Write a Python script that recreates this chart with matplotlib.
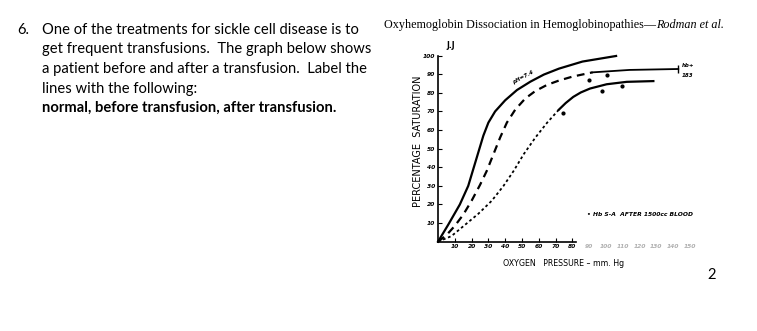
import numpy as np
import matplotlib
matplotlib.use("Agg")
from matplotlib import pyplot as plt

# worksheet text
question = ["One of the treatments for sickle cell disease is to",
            "get frequent transfusions.  The graph below shows",
            "a patient before and after a transfusion.  Label the",
            "lines with the following:"]
answer_line = "normal, before transfusion, after transfusion."

# curves (oxygen pressure mm Hg, % saturation)
normal_x = [0, 6, 13, 18, 21, 24, 27, 30, 34, 40, 47, 55, 63, 72, 86, 106]
normal_y = [0, 9, 20, 30, 39, 48, 57, 64, 70, 76, 81.5, 86, 89.8, 93, 96.8, 99.8]

dashed_x = [0, 5, 10, 15, 20, 25, 29, 33, 37, 41, 46, 52, 58, 65, 72, 80, 92]
dashed_y = [0, 3.5, 8.5, 14.5, 22, 30.5, 38, 47, 56, 64, 71, 77, 81, 84.3, 86.6, 88.7, 91]
dashed_end_x = [92, 114, 143]
dashed_end_y = [91, 92.3, 92.8]

dotted_x = [0, 8, 16, 24, 32, 39, 45, 51, 58, 65, 72]
dotted_y = [0, 3, 9, 15, 22, 30, 38, 47, 56, 64, 71]
after_x = [72, 76, 80.5, 85, 90.5, 100.4, 112.3, 128.2]
after_y = [71, 74.5, 77.8, 80.2, 82.3, 84.6, 85.9, 86.3]

pts_x = [74.6, 90, 97.8, 100.4, 109.3]
pts_y = [69, 86.9, 81, 89.6, 83.7]

xticks = [10, 20, 30, 40, 50, 60, 70, 80, 90, 100, 110, 120, 130, 140, 150]
yticks = [10, 20, 30, 40, 50, 60, 70, 80, 90, 100]

fig = plt.figure(figsize=(7.57, 3.31), dpi=100)

# left hand text
fs = 10.6
fig.text(17/757, 1-30/331, "6.", fontsize=fs, family="Lato", va="center")
for i, line in enumerate(question):
    fig.text(42/757, 1-(30+19.5*i)/331, line, fontsize=fs, family="Lato", va="center")
fig.text(42/757, 1-108/331, answer_line, fontsize=fs, family="Lato",
         weight="bold", va="center")
fig.text(712/757, 1-275/331, "2", fontsize=fs, family="Lato", va="center", ha="center")

# title
t = fig.text(384/757, 1-25/331, "Oxyhemoglobin Dissociation in Hemoglobinopathies\u2014",
             fontsize=8.7, family="Liberation Serif", va="center")
fig.canvas.draw()
bb = t.get_window_extent()
fig.text(bb.x1/757, 1-25/331, "Rodman et al.", fontsize=8.7, family="Liberation Serif",
         style="italic", va="center")

ax = fig.add_axes([438/757, (331-241.7)/331, 252/757, 186.1/331])
ax.set_xlim(0, 150)
ax.set_ylim(0, 100)

ax.plot(normal_x, normal_y, color="black", lw=1.6, clip_on=False)
ax.plot(dashed_x, dashed_y, color="black", lw=1.6, dashes=(3.5, 2.5), clip_on=False)
ax.plot(dashed_end_x, dashed_end_y, color="black", lw=1.3, clip_on=False)
ax.plot([dashed_end_x[-1]], [dashed_end_y[-1]], marker="|", ms=6, mew=1, color="black")
ax.plot(dotted_x, dotted_y, color="black", lw=1.3, dashes=(1.5, 1.5), clip_on=False)
ax.plot(after_x, after_y, color="black", lw=1.6, clip_on=False)
ax.plot(pts_x, pts_y, "o", color="black", ms=2, clip_on=False)

ax.text(50.6, 88.5, "pH=7.4", fontsize=4, style="italic", weight="bold",
        rotation=28, ha="center", va="center")
ax.text(145, 94.8, "hb+", fontsize=4, style="italic", weight="bold", va="center")
ax.text(145, 89.5, "183", fontsize=4, style="italic", weight="bold", va="center")
ax.text(88.7, 14.4, "\u2022 Hb S-A  AFTER 1500cc BLOOD", fontsize=4.3, style="italic",
        weight="bold", va="center")
ax.text(5, 103, "J.J", fontsize=5.5, weight="bold", va="bottom")

for s in ["top", "right"]:
    ax.spines[s].set_visible(False)
ax.spines["bottom"].set_bounds(0, 82)
ax.spines["left"].set_linewidth(1.2)
ax.spines["bottom"].set_linewidth(1.2)

ax.set_yticks(yticks)
ax.set_yticklabels([str(v) for v in yticks], fontsize=4.3, style="italic", weight="bold")
ax.set_xticks(xticks)
ax.set_xticklabels([str(v) for v in xticks], fontsize=4.3, style="italic", weight="bold")
ax.tick_params(direction="in", length=3, width=0.8, pad=2)
for v, lab, tk in zip(xticks, ax.get_xticklabels(), ax.xaxis.get_major_ticks()):
    if v > 80:
        lab.set_color("#b0b0b0")
        tk.tick1line.set_visible(False)

fig.text(418/757, 1-141/331, "PERCENTAGE  SATURATION", rotation=90, fontsize=7,
         ha="center", va="center")
fig.text(564/757, 1-263/331, "OXYGEN   PRESSURE \u2013 mm. Hg", fontsize=5.7,
         ha="center", va="center")

fig.savefig("out.png", dpi=100)
